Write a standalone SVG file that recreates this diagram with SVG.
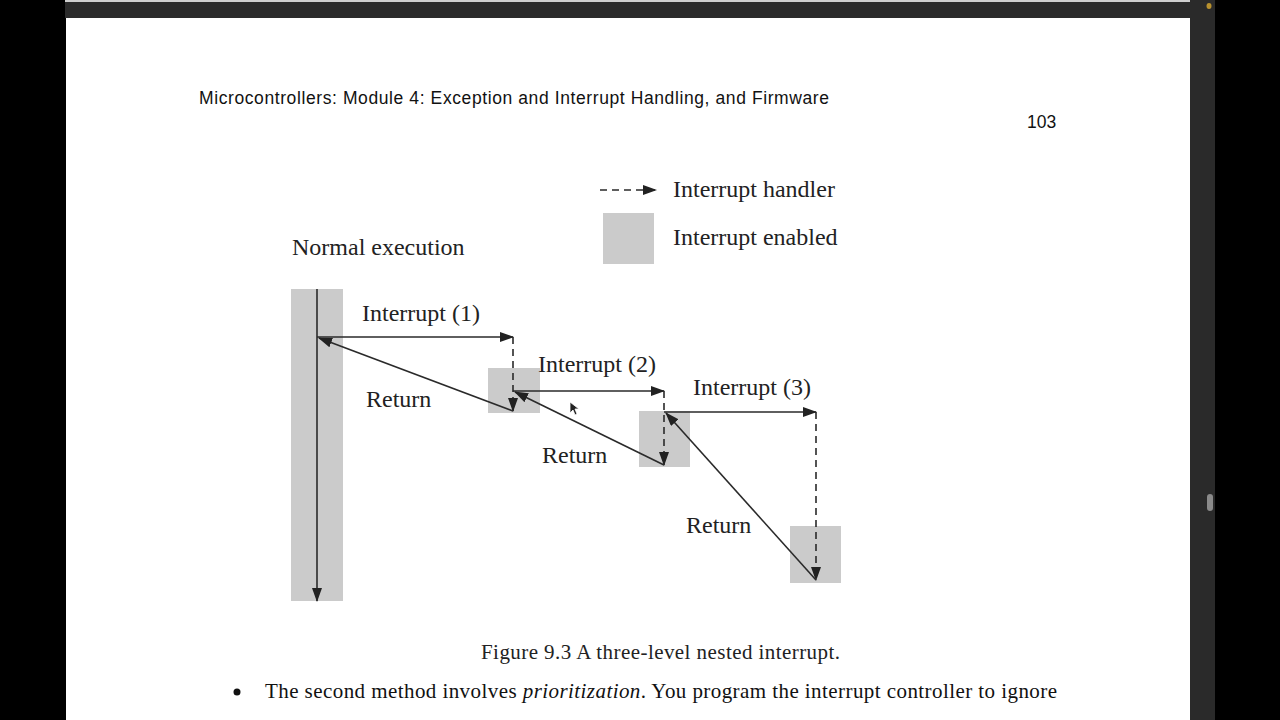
<svg xmlns="http://www.w3.org/2000/svg" width="1280" height="720" viewBox="0 0 1280 720">
<style>
.serif{font-family:"Liberation Serif","Times New Roman",serif;fill:#222}
.lbl{font-size:24px}
.sans{font-family:"Liberation Sans",Arial,sans-serif;fill:#111}
.ln{stroke:#2a2a2a;stroke-width:1.6;fill:none}
.dash{stroke:#2a2a2a;stroke-width:1.6;fill:none;stroke-dasharray:7,5}
.en{fill:#cbcbcb}
</style>
<defs>
<marker id="ah" markerUnits="userSpaceOnUse" markerWidth="14" markerHeight="10" refX="13" refY="5" orient="auto">
<path d="M0,0 L14,5 L0,10 Z" fill="#222"/>
</marker>
</defs>
<rect x="0" y="0" width="1280" height="720" fill="#000"/>
<rect x="65" y="0" width="1125" height="2" fill="#cfcfcf"/>
<rect x="65" y="2" width="1125" height="16" fill="#2b2b2b"/>
<rect x="66" y="18" width="1124" height="702" fill="#fff"/>
<rect x="1190" y="0" width="25" height="720" fill="#2a2a2a"/>
<rect x="1207" y="494" width="6" height="17" rx="3" fill="#8a8a8a"/>
<ellipse cx="1209" cy="6" rx="2.5" ry="3" fill="#b8912e"/>

<text class="sans" x="199" y="104" font-size="17.5" textLength="630">Microcontrollers: Module 4: Exception and Interrupt Handling, and Firmware</text>
<text class="sans" x="1027" y="128" font-size="17.5">103</text>

<g id="legend">
<line class="dash" x1="600" y1="190" x2="656" y2="190" marker-end="url(#ah)" stroke-dasharray="6,5"/>
<text class="serif lbl" x="673" y="197">Interrupt handler</text>
<rect class="en" x="603" y="213" width="51" height="51"/>
<text class="serif lbl" x="673" y="245">Interrupt enabled</text>
</g>

<g id="normal">
<text class="serif lbl" x="292" y="255">Normal execution</text>
<rect class="en" x="291" y="289" width="52" height="312"/>
</g>
<g id="enabled2"><rect class="en" x="488" y="368" width="52" height="45"/></g>
<g id="enabled3"><rect class="en" x="639" y="411" width="51" height="56"/></g>
<g id="enabled4"><rect class="en" x="790" y="526" width="51" height="57"/></g>

<g id="labels">
<text class="serif lbl" x="362" y="321">Interrupt (1)</text>
<text class="serif lbl" x="366" y="407">Return</text>
<text class="serif lbl" x="538" y="372">Interrupt (2)</text>
<text class="serif lbl" x="542" y="463">Return</text>
<text class="serif lbl" x="693" y="395">Interrupt (3)</text>
<text class="serif lbl" x="686" y="533">Return</text>
</g>

<g id="connectors">
<line class="ln" x1="317" y1="289" x2="317" y2="601" marker-end="url(#ah)"/>
<line class="ln" x1="317" y1="337" x2="513" y2="337" marker-end="url(#ah)"/>
<line class="dash" x1="513" y1="337" x2="513" y2="411" marker-end="url(#ah)"/>
<line class="ln" x1="513" y1="411" x2="319" y2="338" marker-end="url(#ah)"/>
<line class="ln" x1="513" y1="391" x2="664" y2="391" marker-end="url(#ah)"/>
<line class="dash" x1="664" y1="391" x2="664" y2="465" marker-end="url(#ah)"/>
<line class="ln" x1="664" y1="465" x2="515" y2="392" marker-end="url(#ah)"/>
<line class="ln" x1="664" y1="412" x2="816" y2="412" marker-end="url(#ah)"/>
<line class="dash" x1="816" y1="412" x2="816" y2="580" marker-end="url(#ah)"/>
<line class="ln" x1="816" y1="580" x2="666" y2="413" marker-end="url(#ah)"/>
</g>

<path d="M570,402 L570,413 L573,410 L575,415 L577,414 L575,409 L579,409 Z" fill="#222" stroke="#fff" stroke-width="0.8"/>

<text class="serif" x="481" y="659" font-size="21" textLength="359">Figure 9.3 A three-level nested interrupt.</text>
<circle cx="237" cy="692" r="3.5" fill="#111"/>
<text class="serif" x="265" y="698" font-size="21" textLength="792" style="fill:#111">The second method involves <tspan font-style="italic">prioritization</tspan>. You program the interrupt controller to ignore</text>
</svg>
